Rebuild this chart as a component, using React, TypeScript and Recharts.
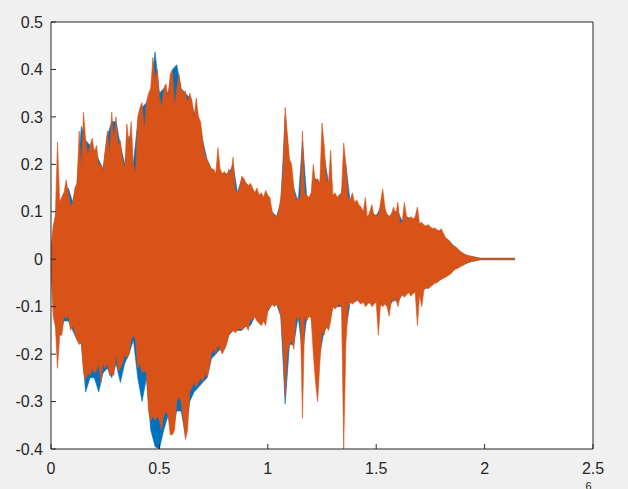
import { Area, ComposedChart, CartesianGrid, XAxis, YAxis } from "recharts";

// sample spacing of the envelope tables (audio samples)
const ORANGE_STEP = 10000;
const BLUE_STEP = 20000;

const xTicks = [0, 500000, 1000000, 1500000, 2000000, 2500000];
const yTicks = [-0.4, -0.3, -0.2, -0.1, 0, 0.1, 0.2, 0.3, 0.4, 0.5];

// channel 2 (orange) envelope, max / min per bin
const orangeHi = [
  0.02, 0.07, 0.09, 0.247, 0.12, 0.13, 0.14, 0.167, 0.14, 0.11,
  0.12, 0.15, 0.16, 0.27, 0.19, 0.31, 0.25, 0.22, 0.24, 0.255,
  0.225, 0.24, 0.2, 0.2, 0.185, 0.23, 0.27, 0.22, 0.31, 0.25,
  0.3, 0.24, 0.25, 0.21, 0.19, 0.285, 0.24, 0.29, 0.2, 0.18,
  0.3, 0.32, 0.33, 0.27, 0.33, 0.35, 0.36, 0.425, 0.38, 0.4,
  0.34, 0.32, 0.36, 0.37, 0.34, 0.39, 0.4, 0.32, 0.36, 0.39,
  0.36, 0.35, 0.355, 0.33, 0.35, 0.335, 0.3, 0.34, 0.3, 0.29,
  0.25, 0.22, 0.21, 0.2, 0.19, 0.19, 0.18, 0.235, 0.19, 0.18,
  0.185, 0.175, 0.19, 0.18, 0.215, 0.145, 0.14, 0.15, 0.175, 0.17,
  0.16, 0.155, 0.16, 0.15, 0.14, 0.15, 0.135, 0.14, 0.13, 0.145,
  0.135, 0.13, 0.1, 0.09, 0.09, 0.1, 0.13, 0.18, 0.32, 0.265,
  0.21, 0.2, 0.15, 0.125, 0.13, 0.125, 0.27, 0.14, 0.135, 0.13,
  0.14, 0.2, 0.16, 0.17, 0.16, 0.287, 0.24, 0.17, 0.16, 0.23,
  0.135, 0.14, 0.13, 0.135, 0.14, 0.245, 0.2, 0.13, 0.125, 0.14,
  0.12, 0.125, 0.115, 0.11, 0.1, 0.13, 0.085, 0.1, 0.115, 0.09,
  0.095, 0.09, 0.12, 0.148, 0.11, 0.093, 0.09, 0.095, 0.11, 0.095,
  0.12, 0.075, 0.08, 0.12, 0.09, 0.085, 0.09, 0.085, 0.09, 0.11,
  0.075, 0.078, 0.072, 0.07, 0.073, 0.068, 0.065, 0.066, 0.062, 0.06,
  0.064, 0.055, 0.045, 0.042, 0.038, 0.03, 0.028, 0.025, 0.02, 0.016,
  0.013, 0.01, 0.008, 0.007, 0.006, 0.005, 0.004, 0.003, 0.002, 0.002,
  0.002, 0.002, 0.002, 0.002, 0.002, 0.002, 0.002, 0.002, 0.002, 0.002,
  0.002, 0.002, 0.002, 0.002, 0.002,
];

const orangeLo = [
  -0.02, -0.12, -0.14, -0.23, -0.16, -0.16, -0.12, -0.125, -0.12, -0.15,
  -0.14, -0.155, -0.17, -0.18, -0.175, -0.24, -0.255, -0.24, -0.245, -0.23,
  -0.24, -0.235, -0.22, -0.26, -0.22, -0.23, -0.22, -0.245, -0.24, -0.245,
  -0.2, -0.235, -0.23, -0.22, -0.2, -0.21, -0.2, -0.17, -0.16, -0.17,
  -0.23, -0.22, -0.24, -0.235, -0.24, -0.32, -0.34, -0.33, -0.34, -0.33,
  -0.34, -0.36, -0.33, -0.32, -0.33, -0.37, -0.37, -0.36, -0.3, -0.29,
  -0.3, -0.34, -0.38, -0.36, -0.28, -0.27, -0.26, -0.27, -0.26, -0.25,
  -0.26, -0.24, -0.25, -0.23, -0.2, -0.19, -0.2, -0.18, -0.19, -0.2,
  -0.19, -0.18, -0.16, -0.155, -0.15, -0.155, -0.15, -0.145, -0.15, -0.145,
  -0.14, -0.15, -0.125, -0.13, -0.12, -0.13, -0.135, -0.14, -0.13, -0.14,
  -0.11, -0.1, -0.095, -0.1, -0.095, -0.1, -0.12, -0.18, -0.29, -0.2,
  -0.18, -0.17, -0.19, -0.12, -0.13, -0.12, -0.335, -0.12, -0.13, -0.12,
  -0.125, -0.2, -0.26, -0.3, -0.22, -0.15, -0.16, -0.14, -0.15, -0.13,
  -0.1, -0.105, -0.1, -0.095, -0.1, -0.4, -0.18, -0.1, -0.09, -0.095,
  -0.09, -0.085, -0.09, -0.095, -0.09, -0.1, -0.095, -0.09, -0.1, -0.095,
  -0.09, -0.16, -0.095, -0.1, -0.095, -0.1, -0.12, -0.085, -0.09, -0.08,
  -0.1, -0.08, -0.075, -0.08, -0.075, -0.07, -0.078, -0.072, -0.07, -0.14,
  -0.075, -0.1, -0.065, -0.06, -0.062, -0.058, -0.055, -0.05, -0.05, -0.045,
  -0.042, -0.04, -0.038, -0.035, -0.032, -0.028, -0.022, -0.02, -0.018, -0.015,
  -0.013, -0.01, -0.008, -0.006, -0.005, -0.004, -0.003, -0.002, -0.001, -0.001,
  -0.001, -0.001, -0.001, -0.001, -0.001, -0.001, -0.001, -0.001, -0.001, -0.001,
  -0.001, -0.001, -0.001, -0.001, -0.001,
];

// channel 1 (blue) envelope, coarser bins
const blueHi = [
  0.02, 0.09, 0.12, 0.14, 0.15, 0.12, 0.16, 0.28, 0.25, 0.24,
  0.23, 0.21, 0.19, 0.26, 0.29, 0.29, 0.24, 0.2, 0.26, 0.2,
  0.29, 0.32, 0.33, 0.35, 0.437, 0.35, 0.36, 0.35, 0.4, 0.41,
  0.36, 0.35, 0.34, 0.31, 0.3, 0.25, 0.21, 0.19, 0.18, 0.18,
  0.18, 0.18, 0.2, 0.14, 0.17, 0.16, 0.15, 0.14, 0.13, 0.13,
  0.13, 0.1, 0.09, 0.12, 0.3, 0.2, 0.15, 0.12, 0.25, 0.13,
  0.13, 0.17, 0.16, 0.22, 0.16, 0.13, 0.13, 0.14, 0.2, 0.12,
  0.12, 0.11, 0.1, 0.09, 0.1, 0.09, 0.11, 0.1, 0.09, 0.1,
  0.1, 0.08, 0.09, 0.085, 0.085, 0.072, 0.068, 0.066, 0.062, 0.06,
  0.058, 0.044, 0.037, 0.027, 0.019, 0.012, 0.008, 0.006, 0.004, 0.002,
  0.002, 0.002, 0.002, 0.002, 0.002, 0.002, 0.002, 0.002,
];

const blueLo = [
  -0.02, -0.14, -0.16, -0.13, -0.13, -0.15, -0.17, -0.18, -0.28, -0.25,
  -0.25, -0.28, -0.24, -0.23, -0.25, -0.22, -0.26, -0.22, -0.2, -0.17,
  -0.25, -0.3, -0.25, -0.36, -0.395, -0.4, -0.36, -0.33, -0.36, -0.32,
  -0.32, -0.37, -0.3, -0.28, -0.27, -0.26, -0.25, -0.21, -0.2, -0.19,
  -0.19, -0.16, -0.15, -0.15, -0.15, -0.14, -0.14, -0.12, -0.135, -0.13,
  -0.11, -0.095, -0.095, -0.12, -0.305, -0.18, -0.18, -0.12, -0.2, -0.12,
  -0.12, -0.2, -0.2, -0.15, -0.14, -0.1, -0.1, -0.1, -0.15, -0.09,
  -0.09, -0.085, -0.09, -0.09, -0.095, -0.09, -0.095, -0.09, -0.1, -0.085,
  -0.09, -0.075, -0.07, -0.07, -0.068, -0.07, -0.062, -0.06, -0.052, -0.048,
  -0.042, -0.036, -0.03, -0.022, -0.017, -0.012, -0.008, -0.005, -0.003, -0.001,
  -0.001, -0.001, -0.001, -0.001, -0.001, -0.001, -0.001, -0.001,
];

const blueData = blueHi.map((hi, i) => ({ t: i * BLUE_STEP, range: [blueLo[i], hi] }));
const orangeData = orangeHi.map((hi, i) => ({ t: i * ORANGE_STEP, range: [orangeLo[i], hi] }));

const AXIS_COLOR = "#262626";
const FONT = "'Liberation Sans', Arial, sans-serif";
const tickFont = { fontSize: 16, fill: AXIS_COLOR, fontFamily: FONT };

const fmtX = (v: number) => String(v / 1e6);
const fmtY = (v: number) => String(Math.round(v * 10) / 10);

export default function App() {
  return (
    <div
      style={{
        position: "fixed",
        left: 0,
        top: 0,
        width: 628,
        height: 489,
        background: "#f0f0f0",
        overflow: "hidden",
      }}
    >
      <ComposedChart
        width={628}
        height={489}
        margin={{ top: 21, right: 34, bottom: 0, left: 0 }}
      >
        <CartesianGrid
          xAxisId="b"
          yAxisId="l"
          fill="#ffffff"
          stroke="none"
          horizontal={false}
          vertical={false}
        />
        <XAxis
          xAxisId="b"
          type="number"
          dataKey="t"
          domain={[0, 2500000]}
          ticks={xTicks}
          tickFormatter={fmtX}
          height={40}
          tickSize={-5}
          tickMargin={19}
          stroke={AXIS_COLOR}
          tick={tickFont}
          allowDataOverflow
        />
        <XAxis
          xAxisId="t"
          orientation="top"
          type="number"
          dataKey="t"
          domain={[0, 2500000]}
          ticks={xTicks}
          tick={false}
          height={1}
          tickSize={-5}
          stroke={AXIS_COLOR}
          allowDataOverflow
        />
        <YAxis
          yAxisId="l"
          type="number"
          domain={[-0.4, 0.5]}
          ticks={yTicks}
          tickFormatter={fmtY}
          width={51}
          tickSize={-5}
          tickMargin={13}
          stroke={AXIS_COLOR}
          tick={tickFont}
          allowDataOverflow
        />
        <YAxis
          yAxisId="r"
          orientation="right"
          type="number"
          domain={[-0.4, 0.5]}
          ticks={yTicks}
          tick={false}
          width={1}
          tickSize={-5}
          stroke={AXIS_COLOR}
          allowDataOverflow
        />
        <Area
          data={blueData}
          xAxisId="b"
          yAxisId="l"
          dataKey="range"
          type="linear"
          stroke="#0072BD"
          strokeWidth={0.6}
          fill="#0072BD"
          fillOpacity={1}
          dot={false}
          activeDot={false}
          isAnimationActive={false}
        />
        <Area
          data={orangeData}
          xAxisId="b"
          yAxisId="l"
          dataKey="range"
          type="linear"
          stroke="#D95319"
          strokeWidth={0.6}
          fill="#D95319"
          fillOpacity={1}
          dot={false}
          activeDot={false}
          isAnimationActive={false}
        />
      </ComposedChart>
      <div
        style={{
          position: "absolute",
          left: 560,
          top: 483,
          fontFamily: FONT,
          fontSize: 15,
          color: AXIS_COLOR,
          whiteSpace: "nowrap",
          lineHeight: "15px",
        }}
      >
        ×10<sup style={{ fontSize: 11, position: "relative", top: -4 }}>6</sup>
      </div>
    </div>
  );
}
